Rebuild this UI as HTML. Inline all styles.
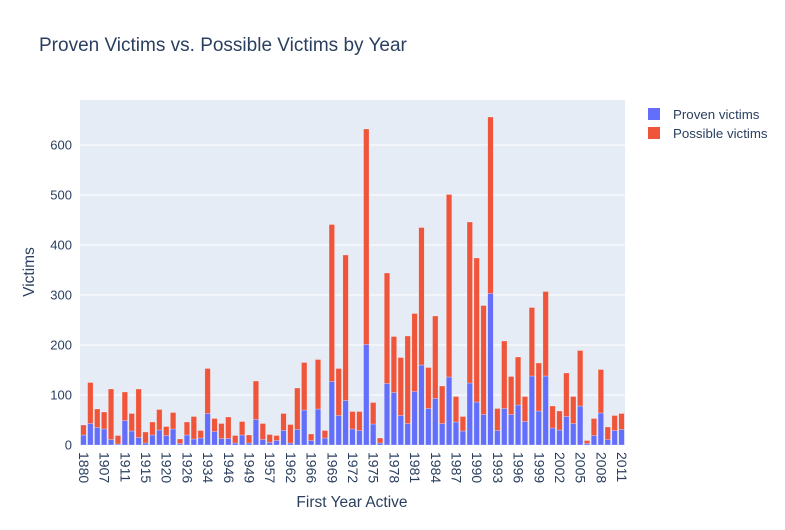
<!DOCTYPE html>
<html><head><meta charset="utf-8"><style>
body{margin:0;background:#fff;}
svg text{font-family:"Liberation Sans",sans-serif;}
</style></head><body>
<svg id="chart" width="785" height="525" xmlns="http://www.w3.org/2000/svg">
<rect x="0" y="0" width="785" height="525" fill="#fff"/>
<text x="39" y="51" font-size="19" fill="#2a3f5f">Proven Victims vs. Possible Victims by Year</text>
<rect x="80" y="100" width="545" height="345" fill="#e5ecf6"/>
<g id="grid"></g>
<g id="bars"></g>
<g id="xticks"></g>
<text transform="translate(34,272) rotate(-90)" text-anchor="middle" font-size="15.5" fill="#2a3f5f">Victims</text>
<text x="352" y="507" text-anchor="middle" font-size="15.5" fill="#2a3f5f">First Year Active</text>
<g>
<g><rect x="648" y="108" width="12" height="12" fill="#636efa"/><text x="673" y="119" font-size="13.3" fill="#2a3f5f">Proven victims</text></g>
<g><rect x="648" y="127" width="12" height="12" fill="#EF553B"/><text x="673" y="138" font-size="13.3" fill="#2a3f5f">Possible victims</text></g>
</g>
</svg>
<script>
const years=[1880,1895,1903,1907,1908,1910,1911,1912,1914,1915,1916,1918,1920,1922,1924,1926,1928,1930,1934,1936,1944,1946,1947,1948,1949,1950,1955,1957,1959,1960,1962,1964,1965,1966,1967,1968,1969,1970,1971,1972,1973,1974,1975,1976,1977,1978,1979,1980,1981,1982,1983,1984,1985,1986,1987,1988,1989,1990,1991,1992,1993,1994,1995,1996,1997,1998,1999,2000,2001,2002,2003,2004,2005,2006,2007,2008,2009,2010,2011];
const proven=[20,43,35,32,11,2,49,28,15,4,20,30,19,32,3,20,12,14,63,27,13,13,4,20,4,51,11,5,9,29,4,31,70,9,72,14,127,59,89,32,29,201,42,4,123,105,59,43,107,160,73,93,43,136,46,28,124,86,61,303,29,73,61,80,47,138,68,138,34,30,57,43,78,3,19,64,11,29,31];
const total=[40,125,72,66,112,19,106,63,112,26,46,71,37,65,12,46,57,29,153,53,43,56,19,47,20,128,43,21,19,63,41,114,165,22,171,29,441,153,380,67,67,632,85,14,344,217,175,218,263,435,155,258,118,501,97,57,446,374,279,656,73,208,137,176,97,275,164,307,78,68,144,97,189,9,53,151,36,59,63];
const yTicks=[0,100,200,300,400,500,600];
const NS="http://www.w3.org/2000/svg";
const x0=80,x1=625,y0=445,pxPer=0.5;
const step=(x1-x0)/years.length;
const xc=i=>x0+step*(i+0.5);
const yv=v=>y0-v*pxPer;
function mk(tag,attrs,parent){const e=document.createElementNS(NS,tag);for(const k in attrs)e.setAttribute(k,attrs[k]);parent.appendChild(e);return e;}
const grid=document.getElementById('grid');
yTicks.forEach(t=>{
  if(t>0){const l=mk('line',{x1:x0,x2:x1,y1:yv(t),y2:yv(t),stroke:'#fff','stroke-width':1},grid);
  
  }
  const tx=mk('text',{x:72,y:yv(t)+4.5,'text-anchor':'end','font-size':13,fill:'#2a3f5f'},grid);
  tx.textContent=t;
  
  
});
const bars=document.getElementById('bars');
const bw=step*0.8;
years.forEach((yr,i)=>{
  const p=proven[i],tt=total[i];
  const b=mk('rect',{x:xc(i)-bw/2,y:yv(p),width:bw,height:p*pxPer,fill:'#636efa',stroke:'rgba(255,255,255,0.5)','stroke-width':0.5},bars);
  
  
  const r=mk('rect',{x:xc(i)-bw/2,y:yv(tt),width:bw,height:Math.max(0,tt-p)*pxPer,fill:'#EF553B',stroke:'rgba(255,255,255,0.5)','stroke-width':0.5},bars);
  
  
});
const xt=document.getElementById('xticks');
years.forEach((yr,i)=>{
  if(i%3!==0)return;
  const t=mk('text',{transform:`translate(${xc(i)-4.5},452) rotate(90)`,'font-size':14,fill:'#2a3f5f'},xt);
  t.textContent=yr;
  
  
});
</script>
</body></html>
